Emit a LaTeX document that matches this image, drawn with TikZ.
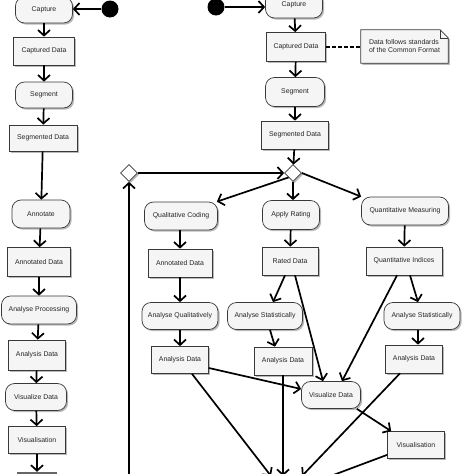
\documentclass[tikz,border=0pt]{standalone}
\usepackage{fontspec}
\setmainfont{Liberation Sans}
\usetikzlibrary{arrows.meta,shapes.geometric,shadows,backgrounds}

\begin{document}
\begin{tikzpicture}[x=1pt,y=-1pt,
  font=\fontsize{6.9}{8}\selectfont,
  shade/.style={drop shadow={shadow xshift=1.6pt,shadow yshift=-1.6pt,fill=gray!55,opacity=1}},
  box/.style={draw=gray!45!black,line width=0.7pt,fill=gray!8,text=black!85,inner sep=0pt,shade},
  act/.style={box,rounded corners=9pt},
  obj/.style={box},
  sz/.style 2 args={minimum width=#1pt,minimum height=#2pt},
  startdot/.style={circle,fill=black,minimum size=17pt,inner sep=0pt},
  choice/.style={diamond,draw=gray!45!black,fill=white,line width=0.7pt,minimum size=17pt,inner sep=0pt,shade},
  flow/.style={line width=1.7pt,-{Straight Barb[length=5.5pt,width=12pt]}},
  link/.style={line width=1.7pt},
  anchorline/.style={line width=1.5pt,dash pattern=on 4pt off 2pt},
]
\useasboundingbox (0,0) rectangle (474,474);
\begin{scope}
\clip (0,0) rectangle (474,474);

% ---------- left lane ----------
\node[act,sz={57}{26}] (lcap) at (44,10) {Capture};
\node[startdot] (ldot) at (110,9) {};
\node[obj,sz={61}{28}] (lcapd) at (44,51) {Captured Data};
\node[act,sz={57}{26}] (lseg) at (44,95) {Segment};
\node[obj,sz={68}{26}] (lsegd) at (43,138) {Segmented Data};
\node[act,sz={58}{28}] (lann) at (41,214) {Annotate};
\node[obj,sz={63}{29}] (lannd) at (39,262) {Annotated Data};
\node[act,sz={75}{28}] (lap) at (39,310) {Analyse Processing};
\node[obj,sz={57}{30}] (lad) at (37,355) {Analysis Data};
\node[act,sz={61}{27}] (lvd) at (36,397) {Visualize Data};
\node[obj,sz={57}{27}] (lvis) at (37,440) {Visualisation};
\node[fill=black!60,inner sep=0pt,sz={40}{12}] (lbar) at (37,478) {};

\draw[flow] (ldot) -- (lcap.east |- ldot);
\draw[flow] (lcap) -- (lcapd);
\draw[flow] (lcapd) -- (lseg);
\draw[flow] (lseg) -- (lsegd);
\draw[flow] (lsegd) -- (lann);
\draw[flow] (lann) -- (lannd);
\draw[flow] (lannd) -- (lap);
\draw[flow] (lap) -- (lad);
\draw[flow] (lad) -- (lvd);
\draw[flow] (lvd) -- (lvis);
\draw[flow] (lvis) -- (lbar);

% ---------- right lane ----------
\node[startdot] (rdot) at (216,7) {};
\node[act,sz={57}{26}] (rcap) at (294,5) {Capture};
\node[obj,sz={59}{29}] (rcapd) at (296,47) {Captured Data};
\node[act,sz={59}{29}] (rseg) at (295,92) {Segment};
\node[obj,sz={67}{28}] (rsegd) at (295,135) {Segmented Data};
\node[choice] (dmain) at (293,173) {};
\node[choice] (ldia) at (129,173) {};

\node[inner sep=0pt,sz={87}{33},align=left,text=black!85] (note) at (404.5,46.5)
  {Data follows standards\\of the Common Format};
\begin{scope}[on background layer]
  \path[draw=gray!45!black,line width=0.7pt,fill=gray!8,shade]
    (note.north west) -- ([xshift=-8pt]note.north east) -- ([yshift=-8pt]note.north east)
    -- (note.south east) -- (note.south west) -- cycle;
  \draw[gray!45!black,line width=0.6pt] ([xshift=-8pt]note.north east) -- ([xshift=-8pt,yshift=-8pt]note.north east)
    -- ([yshift=-8pt]note.north east);
\end{scope}

\node[act,sz={73}{28}] (qcod) at (181,216) {Qualitative Coding};
\node[act,sz={57}{29}] (apply) at (291,215) {Apply Rating};
\node[act,sz={87}{28}] (qmeas) at (405,211) {Quantitative Measuring};
\node[obj,sz={64}{28}] (annd2) at (180,263) {Annotated Data};
\node[obj,sz={56}{28}] (rated) at (290,261) {Rated Data};
\node[obj,sz={76}{28}] (qind) at (404,261) {Quantitative Indices};
\node[act,sz={76}{27}] (aqual) at (180,316) {Analyse Qualitatively};
\node[act,sz={75}{27}] (stat1) at (265,316) {Analyse Statistically};
\node[act,sz={76}{27}] (stat2) at (422,316) {Analyse Statistically};
\node[obj,sz={57}{27}] (ad1) at (180,360) {Analysis Data};
\node[obj,sz={58}{28}] (ad2) at (283,361) {Analysis Data};
\node[obj,sz={57}{28}] (ad3) at (414,359) {Analysis Data};
\node[act,sz={59}{27}] (vis2) at (331,395) {Visualize Data};
\node[obj,sz={57}{27}] (vis3) at (416,445) {Visualisation};

\coordinate (loopin) at (129,480);
\coordinate (m1) at (271,476);
\coordinate (m2) at (283,476);
\coordinate (m3) at (302,476);
\coordinate (vout) at (320,480);

\draw[flow] (rdot) -- (rcap.west |- rdot);
\draw[flow] (rcap) -- (rcapd);
\draw[flow] (rcapd) -- (rseg);
\draw[flow] (rseg) -- (rsegd);
\draw[flow] (rsegd) -- (dmain);
\draw[anchorline] (rcapd.east) -- (note.west |- rcapd.east);

\draw[flow] (loopin) -- (ldia.south);
\draw[flow] (ldia.east) -- (dmain.west);

\draw[flow] (dmain.south west) -- ([xshift=-1pt]qcod.north east);
\draw[flow] (dmain.south) -- (apply.north -| dmain.south);
\draw[flow] (dmain.east) -- (qmeas.north west);

\draw[flow] (qcod.south -| annd2.north) -- (annd2.north);
\draw[flow] (annd2) -- (aqual);
\draw[flow] (aqual) -- (ad1);
\draw[flow] (apply) -- (rated);
\draw[flow] (qmeas) -- (qind);

\draw[flow] ([xshift=-5pt]rated.south) -- ([xshift=8pt]stat1.north);
\draw[flow] ([xshift=5pt]rated.south) -- ([xshift=-8pt]vis2.north);
\draw[flow] ([xshift=5pt]stat1.south) -- ([xshift=-8pt]ad2.north);
\draw[flow] ([xshift=6pt]qind.south) -- ([xshift=-4pt]stat2.north);
\draw[flow] ([xshift=-7pt]qind.south) -- ([xshift=11pt]vis2.north);
\draw[flow] ([xshift=-4pt]stat2.south) -- ([xshift=4pt]ad3.north);

\draw[flow] ([yshift=-8pt]ad1.east) -- ([yshift=6pt]vis2.west);
\draw[flow] ([xshift=-4pt]vis2.south east) -- ([xshift=4pt]vis3.north west);

\draw[flow] ([xshift=12pt]ad1.south) -- (m1);
\draw[flow] (ad2.south) -- (m2);
\draw[flow] ([xshift=-14pt]ad3.south) -- (m3);
\draw[link] ([yshift=4pt]vis3.south west) -- (vout);
\end{scope}
\end{tikzpicture}
\end{document}
